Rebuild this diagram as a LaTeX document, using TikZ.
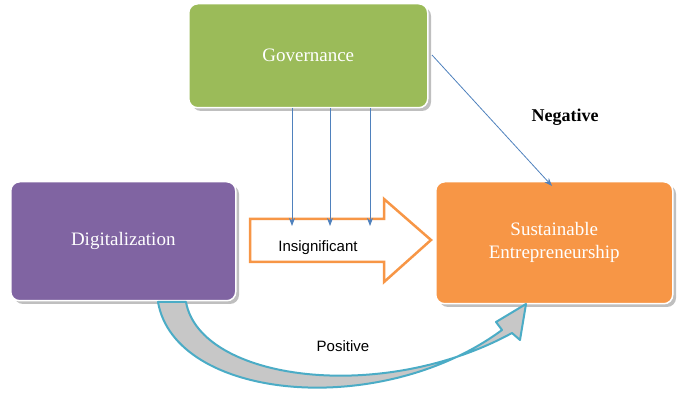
\documentclass[tikz,border=0pt]{standalone}
\usepackage{fontspec}
\setmainfont{Liberation Serif}
\newfontfamily\sansf{Liberation Sans}
\usetikzlibrary{arrows.meta}
\definecolor{gov}{HTML}{9BBB59}
\definecolor{dig}{HTML}{8064A2}
\definecolor{sus}{HTML}{F79646}
\definecolor{arr}{HTML}{4F81BD}
\definecolor{teal}{HTML}{4BACC6}
\begin{document}
\begin{tikzpicture}[x=1pt,y=-1pt,
  box/.style={rounded corners=9pt,draw=white,line width=1.5pt,text=white,font=\fontsize{19}{23}\selectfont,align=center},
  thin/.style={draw=arr,-{Stealth[length=8pt,width=6pt]},line width=0.8pt}]
\useasboundingbox (0,0) rectangle (685,411);
\path[fill=black!25,rounded corners=9pt] (192,7) rectangle (431,111);
\node[box,fill=gov,minimum width=239pt,minimum height=104pt,anchor=north west] (g) at (188,3) {Governance};
\path[fill=black!25,rounded corners=9pt] (14,185) rectangle (239,304);
\node[box,fill=dig,minimum width=225pt,minimum height=119pt,anchor=north west] (d) at (10,181) {Digitalization};
\path[fill=black!25,rounded corners=9pt] (439,185) rectangle (676,307);
\node[box,fill=sus,minimum width=237pt,minimum height=122pt,anchor=north west] (s) at (435,181) {Sustainable\\Entrepreneurship};
% block arrow
\draw[sus,line width=2.5pt,fill=white,line join=miter] (250,219) -- (384,219) -- (384,199) -- (431,240) -- (384,282) -- (384,262) -- (250,262) -- cycle;
\node[font=\sansf\fontsize{15}{18}\selectfont] (ins) at (318,248) {Insignificant};
\coordinate (t1) at (292,108); \coordinate (b1) at (292,226);
\coordinate (t2) at (330,108); \coordinate (b2) at (330,226);
\coordinate (t3) at (370,108); \coordinate (b3) at (370,226);
\draw[thin] (t1) -- (b1);
\draw[thin] (t2) -- (b2);
\draw[thin] (t3) -- (b3);
\coordinate (gn) at (432,55); \coordinate (sn) at (552,186);
\draw[thin] (gn) -- (sn);
\node[font=\bfseries\fontsize{18}{22}\selectfont] (neg) at (565,117) {Negative};
% curved arrow
\draw[teal,line width=2pt,fill=black!22,line join=round]
 (158,302) .. controls (175,400) and (380,420) .. (502,330)
 -- (496,322) -- (526,304) -- (520,340) -- (512,333)
 .. controls (380,405) and (200,380) .. (186,302) -- cycle;
\node[font=\sansf\fontsize{15}{18}\selectfont] (pos) at (343,346) {Positive};
\end{tikzpicture}
\end{document}
